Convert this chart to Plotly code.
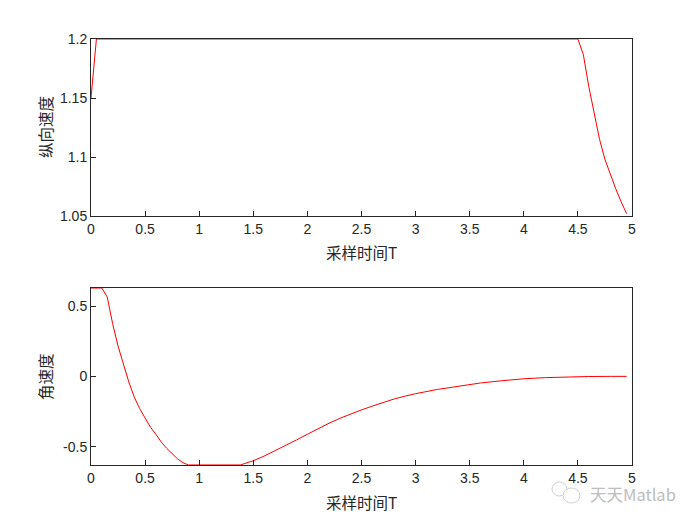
import plotly.graph_objects as go

# ---- data ----
t_top = [0, 0.05, 4.5, 4.55, 4.6, 4.65, 4.7, 4.75, 4.8, 4.85, 4.9, 4.95]
v_top = [1.15, 1.2, 1.2, 1.187, 1.16, 1.136, 1.115, 1.098, 1.085, 1.073, 1.062, 1.052]

t_bot = [0, 0.05, 0.1, 0.15, 0.2, 0.25, 0.3, 0.35, 0.4, 0.45, 0.5, 0.55, 0.6, 0.65,
         0.7, 0.75, 0.8, 0.85, 0.9, 1.38, 1.45, 1.5, 1.6, 1.7, 1.8, 1.9, 2.0,
         2.1, 2.2, 2.3, 2.4, 2.5, 2.6, 2.7, 2.8, 2.9, 3.0, 3.2, 3.4, 3.6, 3.8, 4.0,
         4.2, 4.4, 4.6, 4.8, 4.95]
w_bot = [0.628, 0.628, 0.628, 0.565, 0.375, 0.216, 0.08, -0.04, -0.146, -0.228, -0.295,
         -0.36, -0.41, -0.466, -0.51, -0.55, -0.585, -0.612, -0.628, -0.628,
         -0.612, -0.598, -0.565, -0.528, -0.49, -0.45, -0.41, -0.368, -0.332, -0.297,
         -0.266, -0.237, -0.21, -0.184, -0.16, -0.14, -0.122, -0.092, -0.068, -0.046,
         -0.03, -0.016, -0.008, -0.003, 0.0, 0.001, 0.001]

x_ticks = [0, 0.5, 1, 1.5, 2, 2.5, 3, 3.5, 4, 4.5, 5]
x_ticklabels = ["0", "0.5", "1", "1.5", "2", "2.5", "3", "3.5", "4", "4.5", "5"]
y_top_ticks = [1.05, 1.1, 1.15, 1.2]
y_top_labels = ["1.05", "1.1", "1.15", "1.2"]
y_bot_ticks = [-0.5, 0, 0.5]
y_bot_labels = ["-0.5", "0", "0.5"]

xlabel = "采样时间T"
ylabel_top = "纵向速度"
ylabel_bot = "角速度"
watermark = "天天Matlab"

AX = "#262626"
tickfont = dict(family="Liberation Sans, Arial, sans-serif", size=14, color=AX)
cjk = "Noto Sans CJK SC, sans-serif"

fig = go.Figure()
fig.add_trace(go.Scatter(x=t_top, y=v_top, mode="lines",
                         line=dict(color="red", width=1), xaxis="x", yaxis="y"))
fig.add_trace(go.Scatter(x=t_bot, y=w_bot, mode="lines",
                         line=dict(color="red", width=1), xaxis="x2", yaxis="y2"))

axcommon = dict(showgrid=False, zeroline=False, showline=True, linecolor=AX, linewidth=1,
                mirror=True, ticks="inside", ticklen=5, tickcolor=AX, tickfont=tickfont,
                automargin=False)

W, H = 700, 525
OFF = 8  # page body margin offset

def px(x):
    return (x - OFF) / W

def py(y):
    return 1 - (y - OFF) / H

fig.update_layout(
    width=W, height=H,
    margin=dict(l=0, r=0, t=0, b=0, pad=0, autoexpand=False),
    paper_bgcolor="white", plot_bgcolor="white",
    showlegend=False,
    xaxis=dict(domain=[px(91), px(632)], range=[0, 5], anchor="y",
               tickvals=x_ticks, ticktext=x_ticklabels, **axcommon),
    yaxis=dict(domain=[py(216), py(39)], range=[1.05, 1.2], anchor="x",
               tickvals=y_top_ticks, ticktext=y_top_labels, **axcommon),
    xaxis2=dict(domain=[px(91), px(632)], range=[0, 5], anchor="y2",
                tickvals=x_ticks, ticktext=x_ticklabels, **axcommon),
    yaxis2=dict(domain=[py(465), py(288)], range=[-0.6283, 0.6283], anchor="x2",
                tickvals=y_bot_ticks, ticktext=y_bot_labels, **axcommon),
)

def ann(text, x, y, size=15.5, color=AX, angle=0):
    fig.add_annotation(text=text, x=px(x), y=py(y), xref="paper", yref="paper",
                       xanchor="center", yanchor="middle", showarrow=False,
                       textangle=angle, font=dict(family=cjk, size=size, color=color))

ann(xlabel, 362, 252)
ann(xlabel, 362, 502)
ann(ylabel_top, 45, 127, angle=-90)
ann(ylabel_bot, 45, 377, angle=-90)
ann(watermark, 633, 494, size=16.5, color="#bdbdbd")

# faint wechat-like bubbles of the watermark
for (x0, y0, x1, y1) in [(552, 482, 567, 496), (563, 488, 580, 503)]:
    fig.add_shape(type="circle", xref="paper", yref="paper",
                  x0=px(x0), x1=px(x1), y0=py(y1), y1=py(y0),
                  line=dict(color="#d0d0d0", width=1), fillcolor="rgba(255,255,255,0.6)")

fig.write_html("out.html")
